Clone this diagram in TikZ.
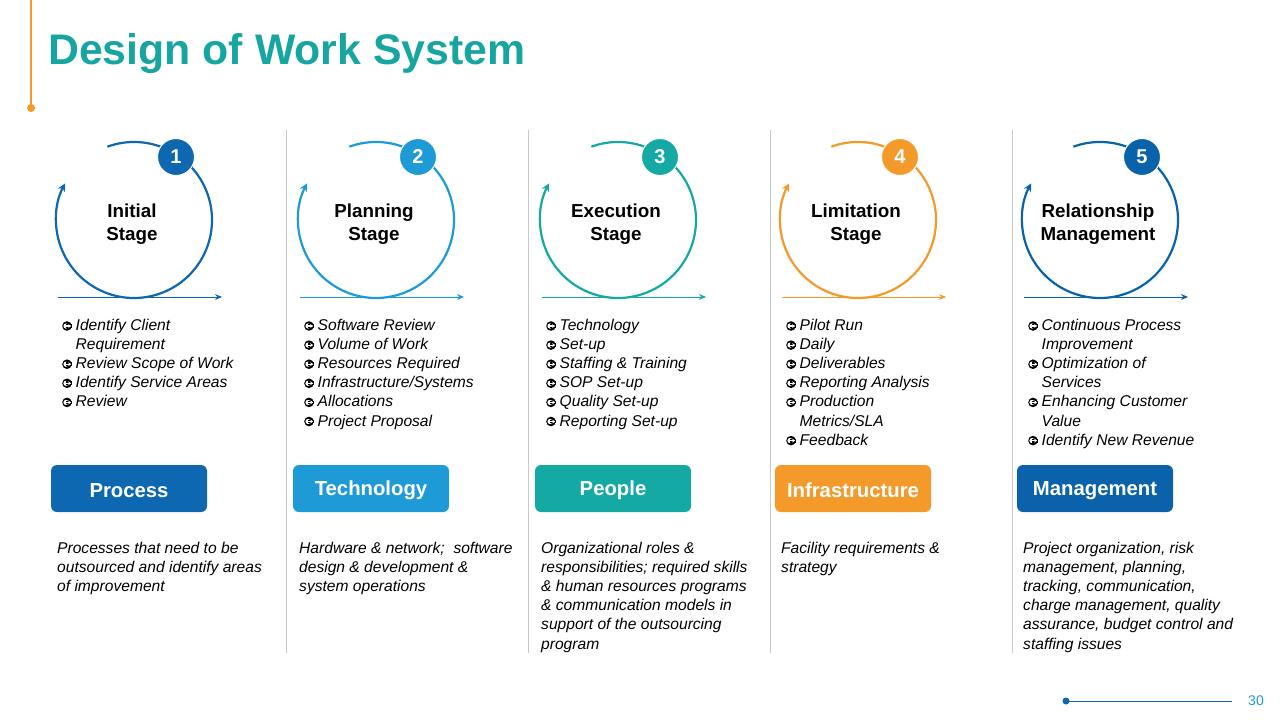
\documentclass[tikz,border=0pt]{standalone}
\usepackage{fontspec}
\setmainfont{Liberation Sans}
\usetikzlibrary{arrows.meta}
\definecolor{cA}{RGB}{14,103,177}
\definecolor{cB}{RGB}{30,154,214}
\definecolor{cC}{RGB}{20,169,163}
\definecolor{cD}{RGB}{243,154,43}
\definecolor{cE}{RGB}{10,99,170}
\definecolor{titlec}{RGB}{22,165,160}
\definecolor{sepc}{RGB}{200,200,200}
\newsavebox\blbox
\savebox\blbox{\tikz[baseline=0pt]{\fill[black] (0pt,4.5pt) circle[radius=4.8pt];
  \fill[white] (-1pt,4.5pt) circle[radius=2.6pt];
  \fill[black] (-1pt,2.6pt) rectangle (5pt,6.4pt);
  \draw[white,line width=1.2pt,-{Stealth[length=3pt,width=3.8pt]}] (-1.5pt,4.5pt)--(4.2pt,4.5pt);}}
\newcommand\bl{\makebox[13.5pt][l]{\usebox\blbox}}
\newcommand\ind{\makebox[13.5pt]{}}
\tikzset{
  ringarc/.style={line width=2.2pt},
  badge/.style={circle,minimum size=37pt,inner sep=0pt,text=white,font=\fontsize{20}{20}\selectfont\bfseries},
  stagelbl/.style={align=center,font=\fontsize{18.8}{23}\selectfont\bfseries},
  bullets/.style={anchor=north west,align=left,inner sep=0pt,font=\fontsize{15.6}{19.1}\selectfont\itshape},
  btn/.style={rounded corners=6pt,minimum width=156pt,minimum height=47pt,text=white,font=\fontsize{20.3}{20}\selectfont\bfseries},
  btntext/.style={text=white,font=\fontsize{20.3}{20}\selectfont\bfseries},
  desc/.style={anchor=north west,align=left,inner sep=0pt,font=\fontsize{15.6}{19.1}\selectfont\itshape},
  sep/.style={draw=sepc,line width=0.8pt}
}
\newcommand\stagecol[7]{%
  \begin{scope}[shift={(#1,0)}]
  \draw[ringarc,draw=#2,-{Stealth[length=8pt,width=8pt]}] ([shift={(-110:78)}]0,220) arc[start angle=-110,end angle=208,radius=78];
  \node[badge,fill=#2,draw=white,line width=1pt] (n#3) at (42,157) {#3};
  \node[stagelbl] (s#3) at (-2,224) {#4};
  \coordinate (hl#3) at (-76,297);
  \coordinate (hr#3) at (88,297);
  \draw[#2,line width=1pt,-{Stealth[length=7pt,width=6pt]}] (hl#3) -- (hr#3);
  \node[bullets] (l#3) at (-72,319) {#5};
  \node[btn,fill=#2] (b#3) at (-5,488.5) {};
  \node[btntext] (bt#3) at (-5,490.5) {#6};
  \node[desc] (d#3) at (-77,542) {#7};
  \end{scope}}
\begin{document}
\begin{tikzpicture}[x=1pt,y=-1pt]
\useasboundingbox (0,0) rectangle (1280,720);
\coordinate (ot) at (31,0); \coordinate (ob) at (31,108);
\draw[draw=cD,line width=1.3pt] (ot) -- (ob);
\fill[cD] (ob) circle (4);
\node[anchor=base west,inner sep=0pt,text=titlec,font=\fontsize{42.8}{42}\selectfont\bfseries] (title) at (48,64) {Design of Work System};
\foreach \x in {286,528,770,1012}{\draw[sep] (\x,130) -- (\x,653);}
\stagecol{134}{cA}{1}{Initial\\Stage}{\bl Identify Client\\\ind Requirement\\\bl Review Scope of Work\\\bl Identify Service Areas\\\bl Review}{Process}{Processes that need to be\\outsourced and identify areas\\of improvement}
\stagecol{376}{cB}{2}{Planning\\Stage}{\bl Software Review\\\bl Volume of Work\\\bl Resources Required\\\bl Infrastructure/Systems\\\bl Allocations\\\bl Project Proposal}{Technology}{Hardware \& network;\ \ software\\design \& development \&\\system operations}
\stagecol{618}{cC}{3}{Execution\\Stage}{\bl Technology\\\bl Set-up\\\bl Staffing \& Training\\\bl SOP Set-up\\\bl Quality Set-up\\\bl Reporting Set-up}{People}{Organizational roles \&\\responsibilities; required skills\\\& human resources programs\\\& communication models in\\support of the outsourcing\\program}
\stagecol{858}{cD}{4}{Limitation\\Stage}{\bl Pilot Run\\\bl Daily\\\bl Deliverables\\\bl Reporting Analysis\\\bl Production\\\ind Metrics/SLA\\\bl Feedback}{Infrastructure}{Facility requirements \&\\strategy}
\stagecol{1100}{cE}{5}{Relationship\\Management}{\bl Continuous Process\\\ind Improvement\\\bl Optimization of\\\ind Services\\\bl Enhancing Customer\\\ind Value\\\bl Identify New Revenue}{Management}{Project organization, risk\\management, planning,\\tracking, communication,\\charge management, quality\\assurance, budget control and\\staffing issues}
\coordinate (fl) at (1066,701); \coordinate (fr) at (1232,701);
\draw[cA,line width=0.8pt] (fl) -- (fr);
\fill[cA] (fl) circle (3.5);
\node[text=cB,font=\fontsize{14}{14}\selectfont] (pg) at (1256,701) {30};
\end{tikzpicture}
\end{document}
